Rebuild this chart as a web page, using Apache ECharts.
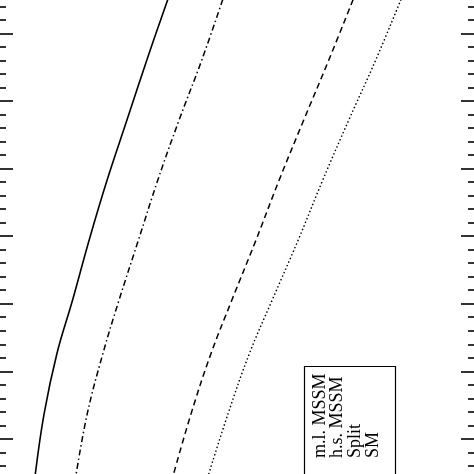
<!DOCTYPE html>
<html>
<head>
<meta charset="utf-8">
<script src="https://cdn.jsdelivr.net/npm/echarts@6/dist/echarts.min.js"></script>
<style>
  html, body { margin: 0; padding: 0; background: #fff; }
  #chart { width: 474px; height: 474px; }
</style>
</head>
<body>
<div id="chart"></div>
<script>
// vertical positions where the curves were read (axis units, 1 per major tick)
const levels = [7.5, 6.61, 5.72, 4.83, 3.94, 3.05, 2.26, 1.37, 0.45];
// horizontal reading of each curve at those levels
const mlMSSM = [3.54, 3.10, 2.68, 2.26, 1.88, 1.53, 1.20, 0.93, 0.74];
const hsMSSM = [4.70, 4.26, 3.78, 3.33, 2.92, 2.51, 2.17, 1.84, 1.60];
const split = [7.45, 6.94, 6.41, 5.89, 5.40, 4.89, 4.45, 4.03, 3.65];
const sm = [8.46, 7.93, 7.36, 6.81, 6.29, 5.74, 5.26, 4.81, 4.39];
const legendNames = ['m.l. MSSM', 'h.s. MSSM', 'Split', 'SM'];

function pairs(xs) {
    return xs.map(function (x, i) { return [x, levels[i]]; });
}

var myChart = echarts.init(document.getElementById('chart'));

var sideAxis = function (pos) {
    return {
        type: 'value',
        position: pos,
        min: 0,
        max: 8,
        interval: 1,
        axisLine: { show: false },
        axisLabel: { show: false },
        splitLine: { show: false },
        axisTick: { show: true, inside: true, length: 13, lineStyle: { color: '#000', width: 1.6 } },
        minorTick: { show: true, splitNumber: 5, length: 6, lineStyle: { color: '#000', width: 1.6 } }
    };
};

var lineSeries = function (name, xs, type, width) {
    return {
        name: name,
        type: 'line',
        data: pairs(xs),
        symbol: 'none',
        smooth: 0.4,
        lineStyle: { color: '#000', width: width, type: type }
    };
};

var legendText = [];
var baseX = [329, 346, 364, 382];
for (var i = 0; i < legendNames.length; i++) {
    legendText.push({
        type: 'text',
        x: baseX[i],
        y: 458,
        rotation: Math.PI / 2,
        style: {
            text: legendNames[i],
            fill: '#000',
            font: '18px "Liberation Serif", serif',
            textAlign: 'left',
            textVerticalAlign: 'bottom'
        },
        z: 100
    });
}

var option = {
    animation: false,
    backgroundColor: '#fff',
    grid: { left: 0, right: 0, top: -34.3, bottom: -32.5, outerBoundsMode: 'none' },
    xAxis: {
        type: 'value',
        min: 0,
        max: 10,
        show: false
    },
    yAxis: [sideAxis('left'), sideAxis('right')],
    series: [
        lineSeries(legendNames[0], mlMSSM, 'solid', 1.6),
        lineSeries(legendNames[1], hsMSSM, [6, 3, 1.5, 3], 1.5),
        lineSeries(legendNames[2], split, [6, 4], 1.5),
        lineSeries(legendNames[3], sm, [1.5, 2.4], 1.4)
    ],
    graphic: [
        {
            type: 'rect',
            shape: { x: 304.5, y: 366.5, width: 91, height: 120 },
            style: { fill: '#fff', stroke: '#000', lineWidth: 1.2 },
            z: 99
        }
    ].concat(legendText)
};

myChart.setOption(option);
window.addEventListener('resize', function () {
    myChart.resize();
});
</script>
</body>
</html>
